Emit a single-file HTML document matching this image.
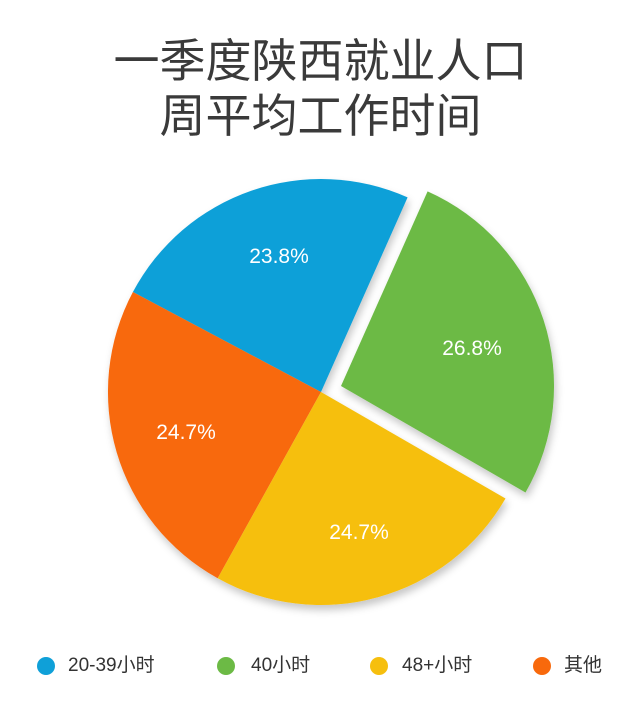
<!DOCTYPE html>
<html><head><meta charset="utf-8"><style>
body{margin:0;width:641px;height:701px;background:#fff;overflow:hidden;font-family:"Liberation Sans","Noto Sans CJK SC",sans-serif}
.t{position:absolute;left:0;width:641px;text-align:center;color:#3a3a3a;font-size:46px;line-height:54px}
.lg{position:absolute;top:654px;font-size:19px;color:#333;line-height:24px}
.d{position:absolute;width:18px;height:18px;border-radius:50%;top:657px}
</style></head><body>
<div class="t" style="top:34px">一季度陕西就业人口</div>
<div class="t" style="top:89px">周平均工作时间</div>
<svg width="641" height="701" style="position:absolute;left:0;top:0">
<defs><filter id="s" x="-20%" y="-20%" width="140%" height="140%"><feDropShadow dx="2" dy="5" stdDeviation="4" flood-color="#000" flood-opacity="0.22"/></filter></defs>
<g filter="url(#s)">
<path d="M321,392 L407.6,197.4 A213,213 0 0 0 132.9,292 Z" fill="#0fa0d8"/>
<path d="M321,392 L132.9,292 A213,213 0 0 0 217.7,578.3 Z" fill="#f8690c"/>
<path d="M321,392 L217.7,578.3 A213,213 0 0 0 505.5,498.5 Z" fill="#f6bf0e"/>
<path d="M341,386 L525.5,492.5 A213,213 0 0 0 427.6,191.4 Z" fill="#6cba45"/>
</g>
<g fill="#fff" font-size="21" text-anchor="middle" font-family="Liberation Sans,sans-serif">
<text x="279" y="263">23.8%</text>
<text x="472" y="355">26.8%</text>
<text x="359" y="539">24.7%</text>
<text x="186" y="439">24.7%</text>
</g>
</svg>
<div class="d" style="left:37px;background:#0fa0d8"></div><div class="lg" style="left:68px">20-39小时</div>
<div class="d" style="left:217px;background:#6cba45"></div><div class="lg" style="left:251px">40小时</div>
<div class="d" style="left:370px;background:#f6bf0e"></div><div class="lg" style="left:402px">48+小时</div>
<div class="d" style="left:533px;background:#f8690c"></div><div class="lg" style="left:564px">其他</div>
</body></html>
